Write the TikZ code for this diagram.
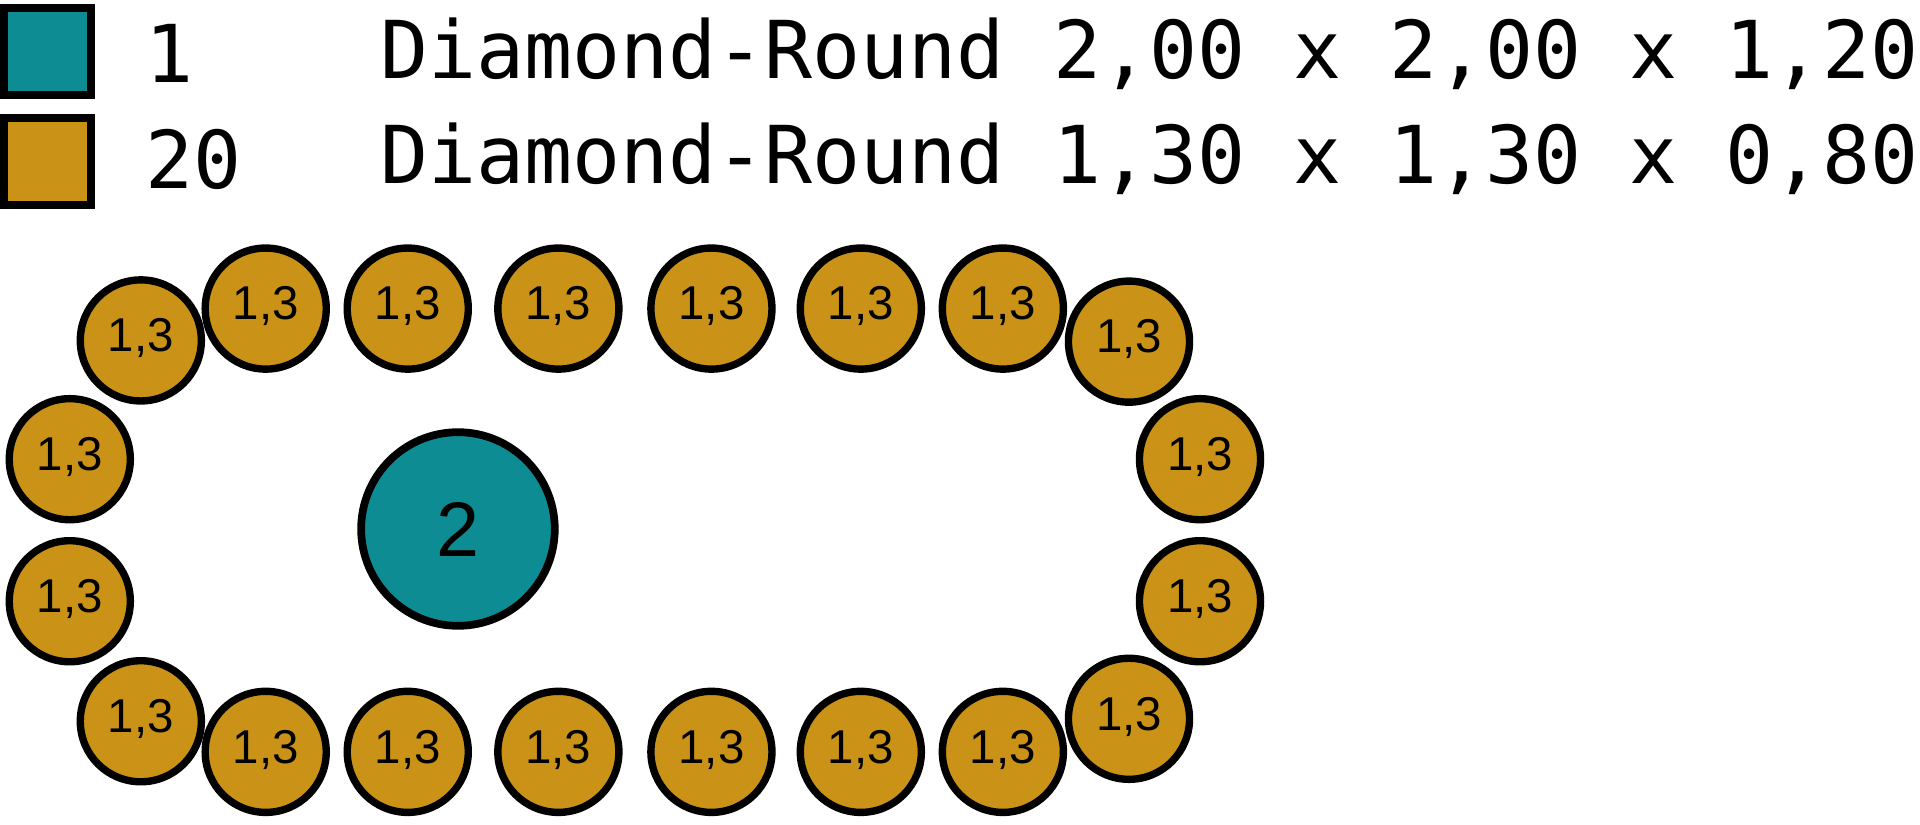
\documentclass[tikz,border=0pt]{standalone}
\usepackage{fontspec}
\setmainfont{Liberation Sans}
\newfontfamily\legendfont{DejaVu Sans Mono}
\definecolor{tableteal}{RGB}{14,140,148}
\definecolor{seatgold}{RGB}{202,146,22}
\tikzset{
	seat/.style={circle, draw=black, line width=2.1pt, fill=seatgold, minimum size=1.21cm, inner sep=0pt, font=\fontsize{13.5}{13.5}\selectfont},
	table/.style={circle, draw=black, line width=2.2pt, fill=tableteal, minimum size=1.935cm, inner sep=0pt, font=\fontsize{22}{22}\selectfont},
	key/.style={draw=black, line width=2.2pt, minimum size=0.87cm, inner sep=0pt},
	legend/.style={anchor=west, inner sep=0pt, font=\legendfont\fontsize{22.7}{22.7}\selectfont}
}
\begin{document}
\begin{tikzpicture}[x=0.012245cm, y=-0.012245cm]
\useasboundingbox (0,0) rectangle (1568,673);

%% Legende %%
\node[key, fill=tableteal] (k1) at (39,42) {};
\node[key, fill=seatgold] (k2) at (39,132) {};
\node[legend] (n1) at (118,44) {1};
\node[legend] (n2) at (118,130) {20};
\node[legend] (d1) at (310,44) {Diamond-Round 2,00 x 2,00 x 1,20};
\node[legend] (d2) at (310,130) {Diamond-Round 1,30 x 1,30 x 0,80};

%% Tisch %%
\node[table] (t1) at (374,432) {2};

%% Stuehle %%
\foreach \x/\y [count=\i] in {115/278, 217/252, 333/252, 456/252, 581/252, 703/252, 819/252, 922/279,
	980/375, 980/491,
	922/587, 819/614, 703/614, 581/614, 456/614, 333/614, 217/614, 115/589,
	57/491, 57/375}
{
	\node[seat] (s\i) at (\x,\y) {\raisebox{3pt}{1,3}};
}
\end{tikzpicture}
\end{document}
